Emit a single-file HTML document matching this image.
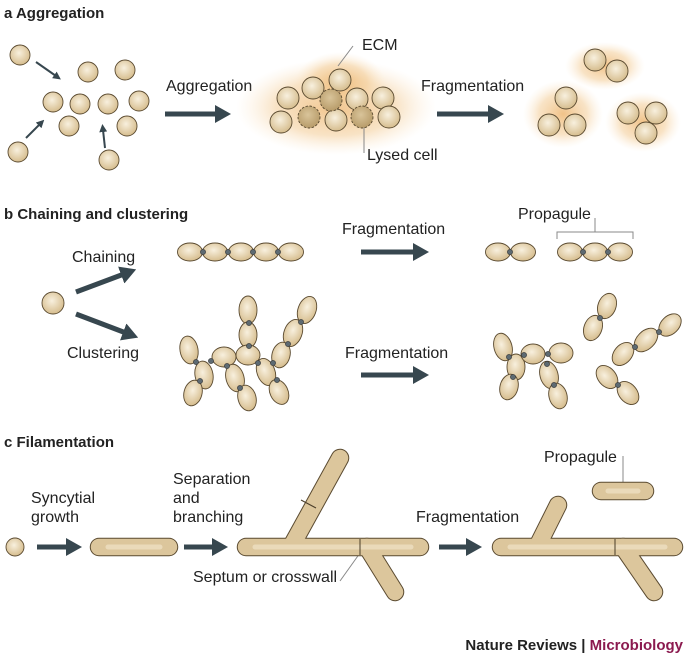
<!DOCTYPE html>
<html><head><meta charset="utf-8"><style>
html,body{margin:0;padding:0;background:#fff;}
svg{display:block;font-family:"Liberation Sans",sans-serif;}
</style></head><body>
<svg width="685" height="656" viewBox="0 0 685 656" xmlns="http://www.w3.org/2000/svg">
<defs>
<radialGradient id="c" cx="0.45" cy="0.4" r="0.6"><stop offset="0" stop-color="#f8f0de"/><stop offset="1" stop-color="#d6bd8e"/></radialGradient>
<radialGradient id="l" cx="0.45" cy="0.4" r="0.6"><stop offset="0" stop-color="#d9c49a"/><stop offset="1" stop-color="#b89c6a"/></radialGradient>
<radialGradient id="g"><stop offset="0" stop-color="#eeb874" stop-opacity="0.85"/><stop offset="0.6" stop-color="#f3cc96" stop-opacity="0.55"/><stop offset="1" stop-color="#fbe7cc" stop-opacity="0"/></radialGradient>
<marker id="h" viewBox="0 0 16 18" refX="3" refY="9" markerWidth="16" markerHeight="18" markerUnits="userSpaceOnUse" orient="auto"><path d="M0,0 L16,9 L0,18 z" fill="#37474f"/></marker>
<marker id="t" viewBox="0 0 8 8" refX="2" refY="4" markerWidth="8" markerHeight="8" markerUnits="userSpaceOnUse" orient="auto"><path d="M0,0 L8,4 L0,8 z" fill="#37474f"/></marker>
</defs>

<g font-size="15" fill="#222">
<text x="4" y="18" font-weight="bold">a  Aggregation</text>
<text x="4" y="219" font-weight="bold">b  Chaining and clustering</text>
<text x="4" y="447" font-weight="bold">c  Filamentation</text>
</g>

<!-- Panel a -->
<g stroke="#5a4a30" stroke-width="0.9" fill="url(#c)">
<circle cx="20" cy="55" r="10"/><circle cx="88" cy="72" r="10"/><circle cx="125" cy="70" r="10"/>
<circle cx="53" cy="102" r="10"/><circle cx="80" cy="104" r="10"/><circle cx="108" cy="104" r="10"/><circle cx="139" cy="101" r="10"/>
<circle cx="69" cy="126" r="10"/><circle cx="127" cy="126" r="10"/><circle cx="18" cy="152" r="10"/><circle cx="109" cy="160" r="10"/>
</g>
<g stroke="#37474f" stroke-width="2" marker-end="url(#t)">
<line x1="36" y1="62" x2="56" y2="76"/><line x1="26" y1="138" x2="40" y2="124"/><line x1="105" y1="148" x2="103" y2="130"/>
</g>
<g font-size="16" fill="#222">
<text x="166" y="91">Aggregation</text>
<text x="421" y="91">Fragmentation</text>
<text x="362" y="50">ECM</text>
<text x="367" y="160">Lysed cell</text>
</g>
<g stroke="#37474f" stroke-width="5">
<line x1="165" y1="114" x2="218" y2="114" marker-end="url(#h)"/>
<line x1="437" y1="114" x2="491" y2="114" marker-end="url(#h)"/>
</g>
<ellipse cx="336" cy="107" rx="100" ry="48" fill="url(#g)"/>
<ellipse cx="340" cy="82" rx="45" ry="30" fill="url(#g)"/>
<ellipse cx="605" cy="66" rx="40" ry="24" fill="url(#g)"/>
<ellipse cx="563" cy="114" rx="40" ry="34" fill="url(#g)"/>
<ellipse cx="643" cy="122" rx="38" ry="30" fill="url(#g)"/>
<g stroke="#888" stroke-width="1" fill="none">
<line x1="353" y1="46" x2="338" y2="66"/><line x1="364" y1="122" x2="364" y2="153"/>
</g>
<g stroke="#5a4a30" stroke-width="0.9" fill="url(#c)">
<circle cx="340" cy="80" r="11"/><circle cx="313" cy="88" r="11"/><circle cx="288" cy="98" r="11"/>
<circle cx="357" cy="99" r="11"/><circle cx="383" cy="98" r="11"/><circle cx="281" cy="122" r="11"/>
<circle cx="336" cy="120" r="11"/><circle cx="389" cy="117" r="11"/>
</g>
<g stroke="#5a4a30" stroke-width="0.9" stroke-dasharray="2.5,1.5" fill="url(#l)">
<circle cx="331" cy="100" r="11"/><circle cx="309" cy="117" r="11"/><circle cx="362" cy="117" r="11"/>
</g>
<g stroke="#5a4a30" stroke-width="0.9" fill="url(#c)">
<circle cx="595" cy="60" r="11"/><circle cx="617" cy="71" r="11"/>
<circle cx="566" cy="98" r="11"/><circle cx="549" cy="125" r="11"/><circle cx="575" cy="125" r="11"/>
<circle cx="628" cy="113" r="11"/><circle cx="656" cy="113" r="11"/><circle cx="646" cy="133" r="11"/>
</g>

<!-- Panel b -->
<g font-size="16" fill="#222">
<text x="72" y="262">Chaining</text>
<text x="67" y="358">Clustering</text>
<text x="342" y="234">Fragmentation</text>
<text x="345" y="358">Fragmentation</text>
<text x="518" y="219">Propagule</text>
</g>
<g stroke="#37474f" stroke-width="5">
<line x1="76" y1="292" x2="124" y2="274" marker-end="url(#h)"/>
<line x1="76" y1="314" x2="126" y2="333" marker-end="url(#h)"/>
<line x1="361" y1="252" x2="416" y2="252" marker-end="url(#h)"/>
<line x1="361" y1="375" x2="416" y2="375" marker-end="url(#h)"/>
</g>
<path d="M557,239 V232 H633 V239 M595,232 V218" stroke="#888" stroke-width="1" fill="none"/>
<g stroke="#5a4a30" stroke-width="0.9" fill="url(#c)">
<circle cx="53" cy="303" r="11"/>
<ellipse cx="190" cy="252" rx="12.5" ry="9"/><ellipse cx="215" cy="252" rx="12.5" ry="9"/><ellipse cx="241" cy="252" rx="12.5" ry="9"/><ellipse cx="266" cy="252" rx="12.5" ry="9"/><ellipse cx="291" cy="252" rx="12.5" ry="9"/>
<ellipse cx="498" cy="252" rx="12.5" ry="9"/><ellipse cx="523" cy="252" rx="12.5" ry="9"/>
<ellipse cx="570" cy="252" rx="12.5" ry="9"/><ellipse cx="595" cy="252" rx="12.5" ry="9"/><ellipse cx="620" cy="252" rx="12.5" ry="9"/>
<ellipse cx="248" cy="310" rx="9" ry="14"/><ellipse cx="248" cy="335" rx="9" ry="13"/><ellipse cx="248" cy="355" rx="12" ry="10"/>
<ellipse cx="307" cy="310" rx="9" ry="14" transform="rotate(20 307 310)"/><ellipse cx="293" cy="333" rx="9" ry="14" transform="rotate(20 293 333)"/><ellipse cx="281" cy="355" rx="9" ry="13" transform="rotate(15 281 355)"/>
<ellipse cx="189" cy="350" rx="9" ry="14" transform="rotate(-10 189 350)"/><ellipse cx="204" cy="375" rx="9" ry="14" transform="rotate(-10 204 375)"/><ellipse cx="193" cy="393" rx="9" ry="13" transform="rotate(15 193 393)"/>
<ellipse cx="224" cy="357" rx="12" ry="10"/><ellipse cx="235" cy="378" rx="9" ry="14" transform="rotate(-15 235 378)"/><ellipse cx="247" cy="398" rx="9" ry="13" transform="rotate(-15 247 398)"/>
<ellipse cx="266" cy="372" rx="9" ry="14" transform="rotate(-20 266 372)"/><ellipse cx="279" cy="392" rx="9" ry="13" transform="rotate(-25 279 392)"/>
<ellipse cx="503" cy="347" rx="9" ry="14" transform="rotate(-15 503 347)"/><ellipse cx="516" cy="367" rx="9" ry="13"/><ellipse cx="509" cy="387" rx="9" ry="13" transform="rotate(15 509 387)"/>
<ellipse cx="533" cy="354" rx="12" ry="10"/><ellipse cx="561" cy="353" rx="12" ry="10"/>
<ellipse cx="549" cy="375" rx="9" ry="14" transform="rotate(-15 549 375)"/><ellipse cx="558" cy="396" rx="9" ry="13" transform="rotate(-15 558 396)"/>
<ellipse cx="607" cy="306" rx="9" ry="13" transform="rotate(20 607 306)"/><ellipse cx="593" cy="328" rx="9" ry="13" transform="rotate(20 593 328)"/>
<ellipse cx="670" cy="325" rx="9" ry="13" transform="rotate(45 670 325)"/><ellipse cx="646" cy="340" rx="9" ry="14" transform="rotate(45 646 340)"/><ellipse cx="623" cy="354" rx="9" ry="13" transform="rotate(40 623 354)"/>
<ellipse cx="607" cy="377" rx="9" ry="13" transform="rotate(-40 607 377)"/><ellipse cx="628" cy="393" rx="9" ry="13" transform="rotate(-40 628 393)"/>
</g>
<g fill="#5d6a72" stroke="#333" stroke-width="0.6">
<circle cx="203" cy="252" r="2.6"/><circle cx="228" cy="252" r="2.6"/><circle cx="253" cy="252" r="2.6"/><circle cx="278" cy="252" r="2.6"/>
<circle cx="510" cy="252" r="2.6"/><circle cx="583" cy="252" r="2.6"/><circle cx="608" cy="252" r="2.6"/>
<circle cx="249" cy="323" r="2.6"/><circle cx="249" cy="346" r="2.6"/><circle cx="288" cy="344" r="2.6"/><circle cx="301" cy="322" r="2.6"/>
<circle cx="196" cy="362" r="2.6"/><circle cx="211" cy="361" r="2.6"/><circle cx="200" cy="381" r="2.6"/><circle cx="227" cy="366" r="2.6"/>
<circle cx="240" cy="388" r="2.6"/><circle cx="258" cy="363" r="2.6"/><circle cx="273" cy="363" r="2.6"/><circle cx="277" cy="380" r="2.6"/>
<circle cx="509" cy="357" r="2.6"/><circle cx="524" cy="355" r="2.6"/><circle cx="548" cy="354" r="2.6"/><circle cx="547" cy="364" r="2.6"/>
<circle cx="513" cy="377" r="2.6"/><circle cx="554" cy="385" r="2.6"/>
<circle cx="600" cy="318" r="2.6"/><circle cx="659" cy="332" r="2.6"/><circle cx="635" cy="347" r="2.6"/><circle cx="618" cy="385" r="2.6"/>
</g>

<!-- Panel c -->
<g font-size="16" fill="#222">
<text x="31" y="503">Syncytial</text><text x="31" y="522">growth</text>
<text x="173" y="484">Separation</text><text x="173" y="503">and</text><text x="173" y="522">branching</text>
<text x="416" y="522">Fragmentation</text>
<text x="193" y="582">Septum or crosswall</text>
<text x="544" y="462">Propagule</text>
</g>
<g stroke="#37474f" stroke-width="5">
<line x1="37" y1="547" x2="69" y2="547" marker-end="url(#h)"/>
<line x1="184" y1="547" x2="215" y2="547" marker-end="url(#h)"/>
<line x1="439" y1="547" x2="469" y2="547" marker-end="url(#h)"/>
</g>
<g stroke="#888" stroke-width="1" fill="none">
<line x1="340" y1="581" x2="360" y2="553"/><line x1="623" y1="456" x2="623" y2="482"/>
</g>
<circle cx="15" cy="547" r="9" fill="url(#c)" stroke="#5a4a30" stroke-width="0.9"/>
<g stroke-linecap="round" fill="none">
<g stroke="#5a4a30" stroke-width="18.5">
<line x1="99" y1="547" x2="169" y2="547"/>
<line x1="246" y1="547" x2="420" y2="547"/><line x1="292" y1="545" x2="340" y2="458"/><line x1="367" y1="547" x2="395" y2="592"/>
<line x1="501" y1="547" x2="674" y2="547"/><line x1="538" y1="545" x2="558" y2="505"/><line x1="623" y1="547" x2="654" y2="592"/>
<line x1="601" y1="491" x2="645" y2="491"/>
</g>
<g stroke="#dcc69c" stroke-width="16.5">
<line x1="99" y1="547" x2="169" y2="547"/>
<line x1="246" y1="547" x2="420" y2="547"/><line x1="292" y1="545" x2="340" y2="458"/><line x1="367" y1="547" x2="395" y2="592"/>
<line x1="501" y1="547" x2="674" y2="547"/><line x1="538" y1="545" x2="558" y2="505"/><line x1="623" y1="547" x2="654" y2="592"/>
<line x1="601" y1="491" x2="645" y2="491"/>
</g>
<g stroke="#efe2c8" stroke-width="5" stroke-opacity="0.7">
<line x1="108" y1="547" x2="160" y2="547"/><line x1="255" y1="547" x2="411" y2="547"/><line x1="510" y1="547" x2="665" y2="547"/><line x1="608" y1="491" x2="638" y2="491"/>
</g>
</g>
<g stroke="#4a3d28" stroke-width="1">
<line x1="360" y1="539" x2="360" y2="555"/><line x1="301" y1="500" x2="316" y2="508"/><line x1="615" y1="539" x2="615" y2="555"/>
</g>

<text x="683" y="650" text-anchor="end" font-size="15" font-weight="bold" fill="#222">Nature Reviews | <tspan fill="#8b1a4f">Microbiology</tspan></text>
</svg>
</body></html>
